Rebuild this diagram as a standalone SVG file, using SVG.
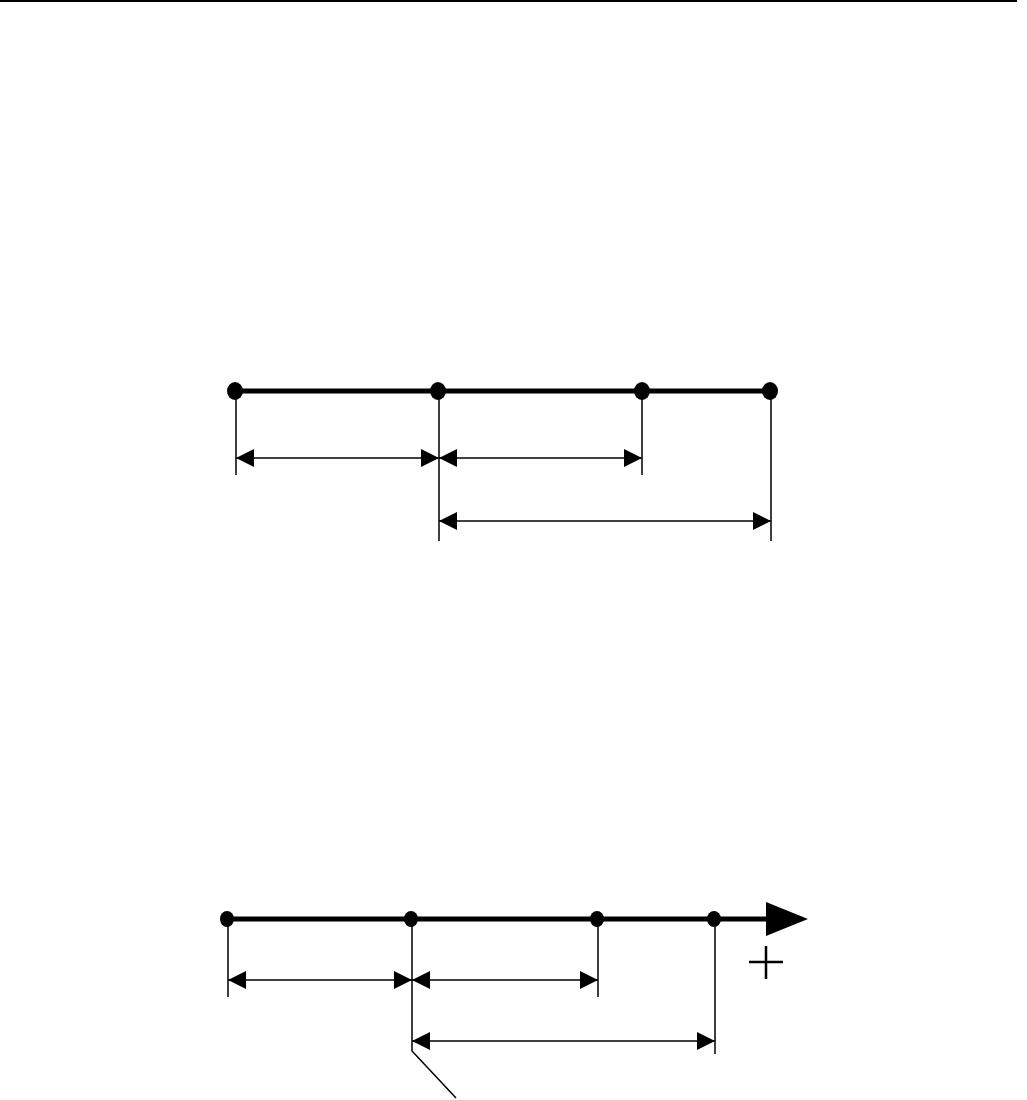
<svg xmlns="http://www.w3.org/2000/svg" width="1027" height="1100" viewBox="0 0 1027 1100">
<defs>
<style>
.axis{stroke:#000;stroke-width:5;fill:none}
.tick{stroke:#000;stroke-width:1.5;fill:none}
.dim{stroke:#000;stroke-width:1.5;fill:none;marker-start:url(#ah);marker-end:url(#ah)}
.dot{fill:#000}
</style>
<marker id="ah" viewBox="0 0 18 18" refX="18" refY="9" markerWidth="18" markerHeight="18" markerUnits="userSpaceOnUse" orient="auto-start-reverse">
<path d="M0,0 L18,9 L0,18 Z" fill="#000"/>
</marker>
</defs>
<rect width="1027" height="1100" fill="#fff"/>
<line x1="0" y1="1" x2="1017" y2="1" stroke="#000" stroke-width="2"/>
<g id="top-diagram">
<g id="top-axis"><line class="axis" x1="235" y1="391" x2="770" y2="391"/></g>
<g id="top-p1"><ellipse class="dot" cx="235" cy="391" rx="8" ry="9"/></g>
<g id="top-p2"><ellipse class="dot" cx="438" cy="391" rx="8" ry="9"/></g>
<g id="top-p3"><ellipse class="dot" cx="642" cy="391" rx="8" ry="9"/></g>
<g id="top-p4"><ellipse class="dot" cx="770" cy="391" rx="8" ry="9"/></g>
<g id="top-connectors">
<line class="tick" x1="236" y1="391" x2="236" y2="475"/>
<line class="tick" x1="439" y1="391" x2="439" y2="541"/>
<line class="tick" x1="642" y1="391" x2="642" y2="475"/>
<line class="tick" x1="771" y1="391" x2="771" y2="541"/>
<line class="dim" x1="236" y1="458" x2="439" y2="458"/>
<line class="dim" x1="439" y1="458" x2="642" y2="458"/>
<line class="dim" x1="439" y1="521" x2="771" y2="521"/>
</g>
</g>
<g id="bottom-diagram">
<g id="bottom-axis">
<line class="axis" x1="227" y1="919" x2="770" y2="919"/>
<path d="M766,902 L808,919 L766,936 Z" fill="#000"/>
</g>
<g id="bottom-p1"><ellipse class="dot" cx="227" cy="919" rx="7" ry="8"/></g>
<g id="bottom-p2"><ellipse class="dot" cx="411" cy="919" rx="7" ry="8"/></g>
<g id="bottom-p3"><ellipse class="dot" cx="597" cy="919" rx="7" ry="8"/></g>
<g id="bottom-p4"><ellipse class="dot" cx="714" cy="919" rx="7" ry="8"/></g>
<g id="plus"><path d="M749,962 H783 M766,946 V979" stroke="#000" stroke-width="2.5" fill="none"/></g>
<g id="bottom-connectors">
<line class="tick" x1="228" y1="919" x2="228" y2="997"/>
<polyline class="tick" points="412,919 412,1051 456,1098"/>
<line class="tick" x1="598" y1="919" x2="598" y2="997"/>
<line class="tick" x1="715" y1="919" x2="715" y2="1054"/>
<line class="dim" x1="228" y1="980" x2="412" y2="980"/>
<line class="dim" x1="412" y1="980" x2="598" y2="980"/>
<line class="dim" x1="412" y1="1041" x2="715" y2="1041"/>
</g>
</g>
</svg>
